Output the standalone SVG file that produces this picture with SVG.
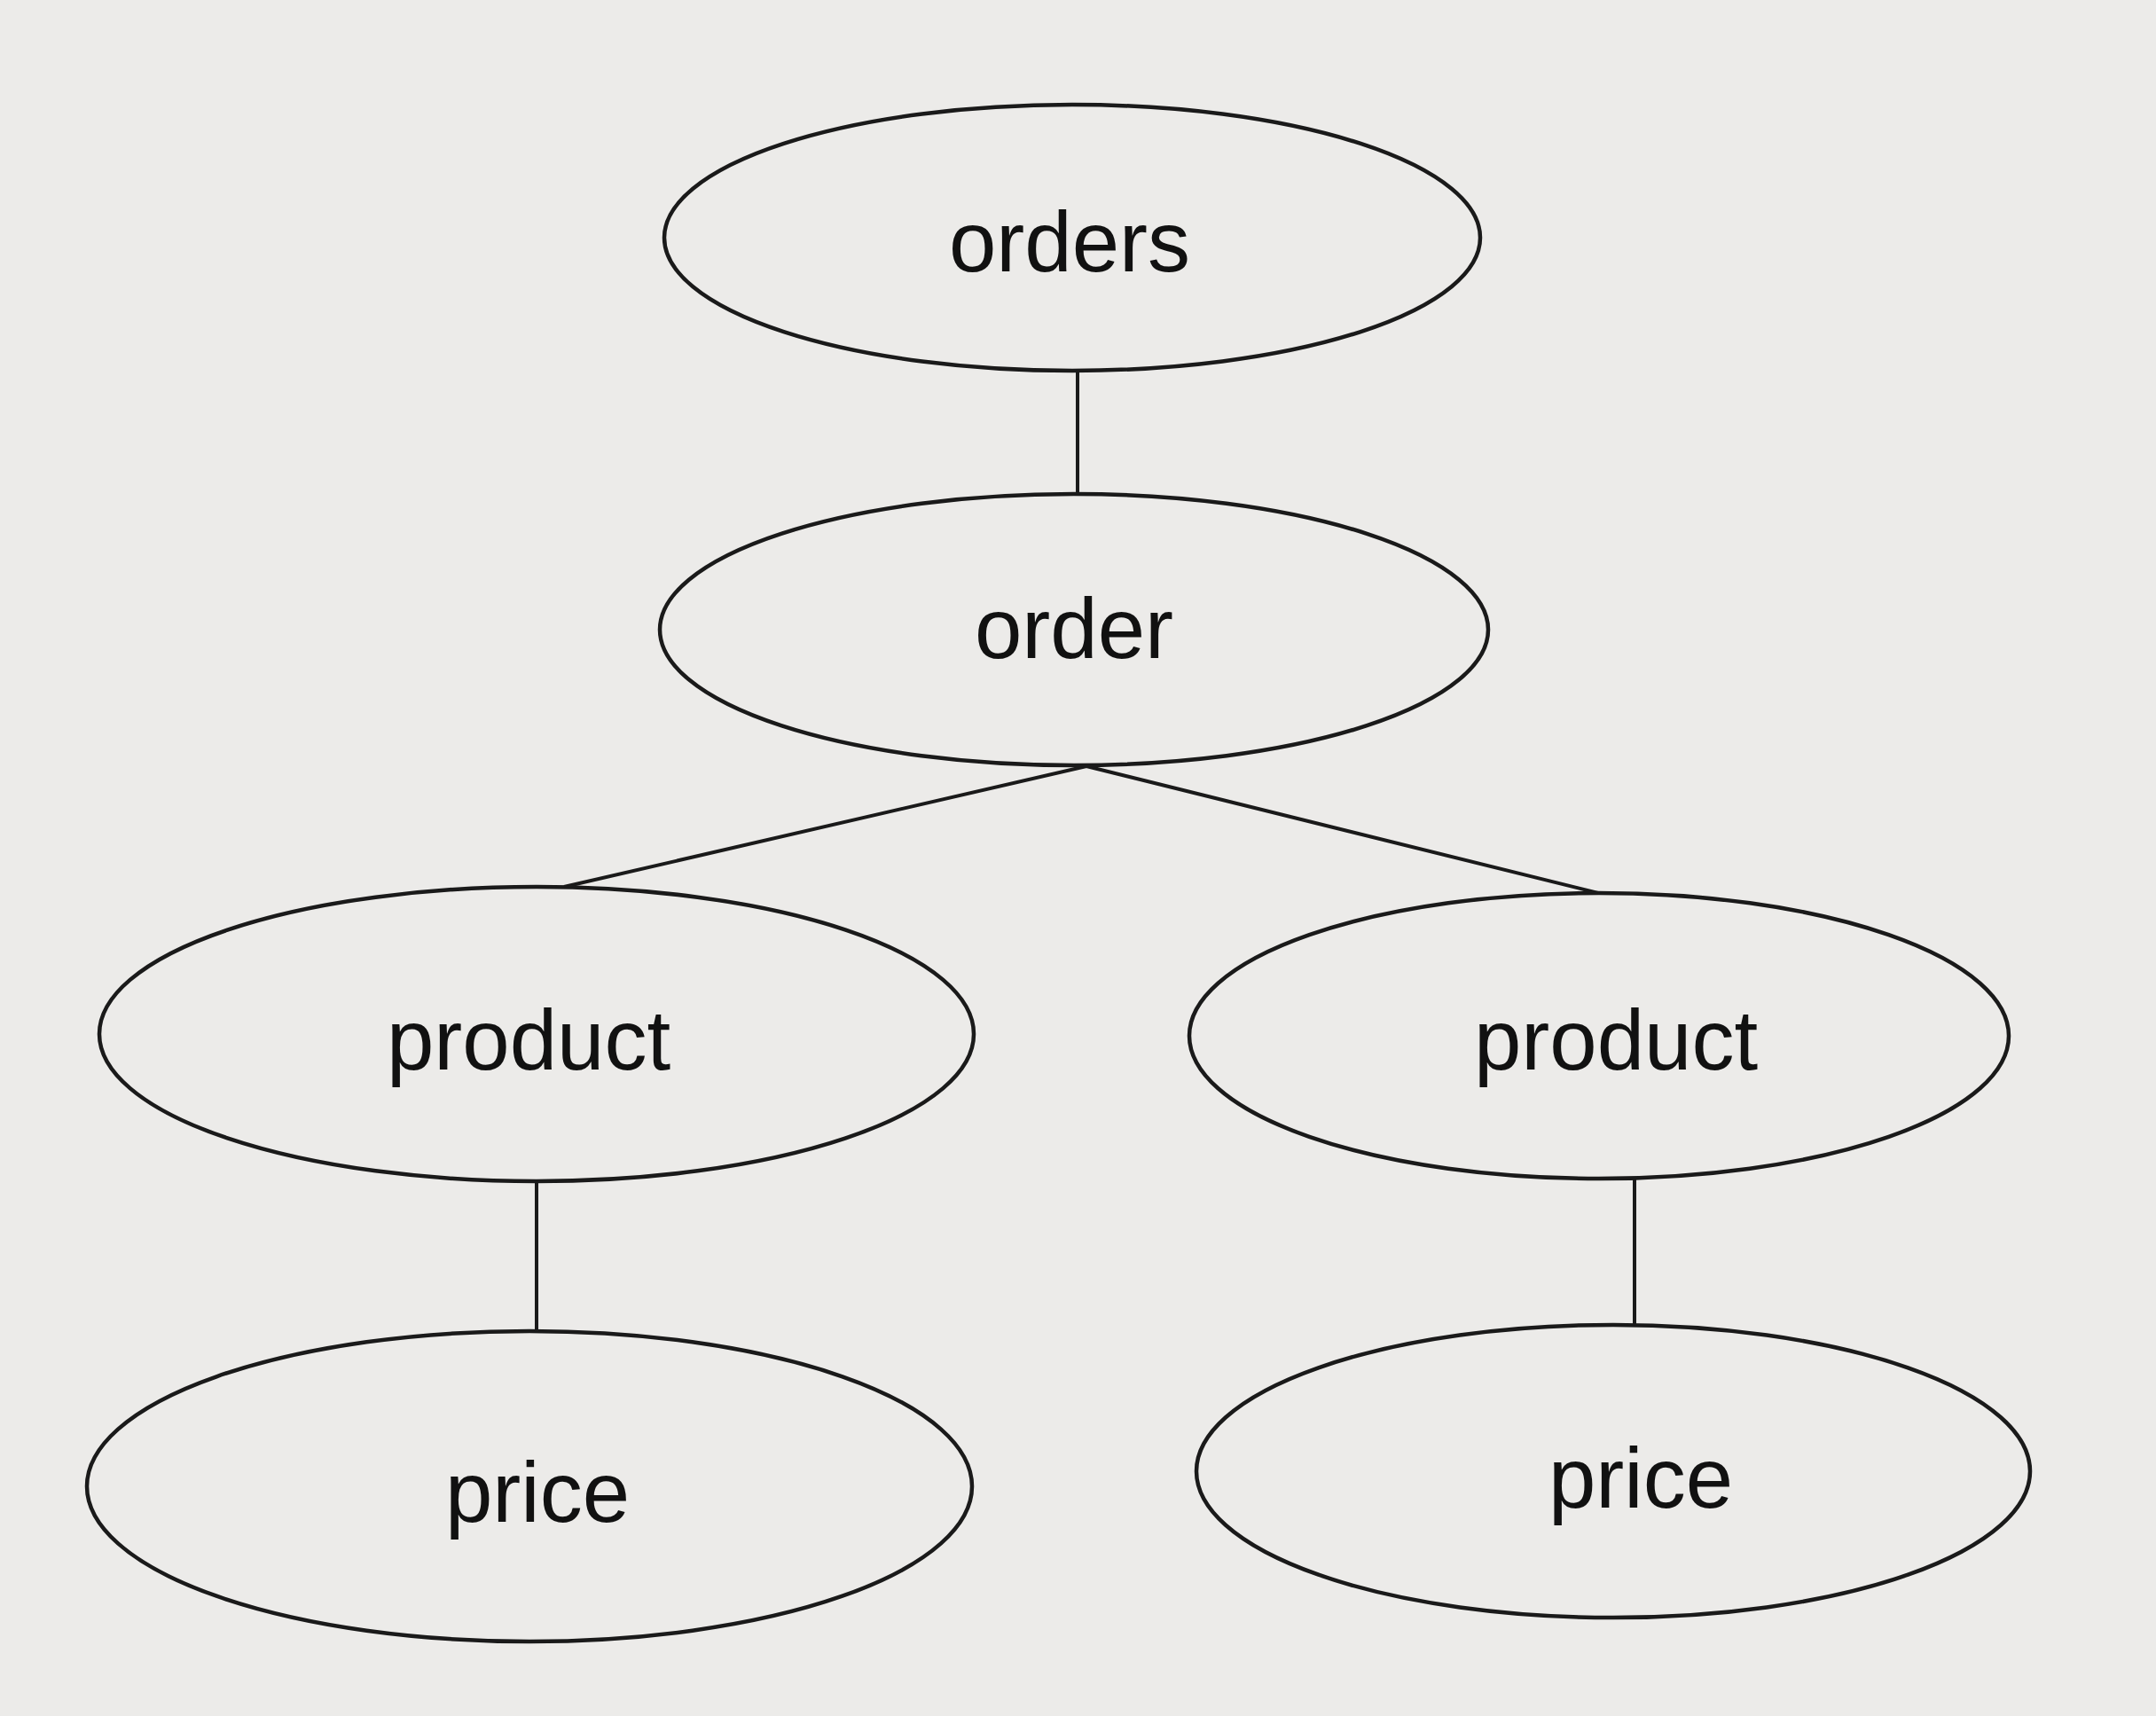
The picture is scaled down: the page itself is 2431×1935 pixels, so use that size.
<svg xmlns="http://www.w3.org/2000/svg" width="2431" height="1935" viewBox="0 0 2431 1935">
<style>
ellipse{fill:#ecebe9;stroke:#1a1a1a;stroke-width:4.5}
line{stroke:#1a1a1a;stroke-width:4}
text{font-family:"Liberation Sans",Arial,sans-serif;font-size:96px;fill:#111;text-anchor:middle}
</style>
<rect width="2431" height="1935" fill="#ecebe9"/>
<g id="connectors">
<line x1="1215" y1="420" x2="1215" y2="557"/>
<line x1="1225" y1="864" x2="636" y2="1000"/>
<line x1="1225" y1="864" x2="1806" y2="1008"/>
<line x1="605" y1="1333" x2="605" y2="1501"/>
<line x1="1843" y1="1328" x2="1843" y2="1493"/>
</g>
<g id="orders"><ellipse cx="1209" cy="268" rx="460" ry="150"/><text x="1206" y="306">orders</text></g>
<g id="order"><ellipse cx="1211" cy="710" rx="467" ry="153"/><text x="1211" y="742">order</text></g>
<g id="productL"><ellipse cx="605" cy="1166" rx="493" ry="166"/><text x="596" y="1206">product</text></g>
<g id="productR"><ellipse cx="1803" cy="1168" rx="462" ry="161"/><text x="1822" y="1206">product</text></g>
<g id="priceL"><ellipse cx="597" cy="1676" rx="499" ry="175"/><text x="606" y="1716">price</text></g>
<g id="priceR"><ellipse cx="1819" cy="1659" rx="470" ry="165"/><text x="1850" y="1700">price</text></g>
</svg>
